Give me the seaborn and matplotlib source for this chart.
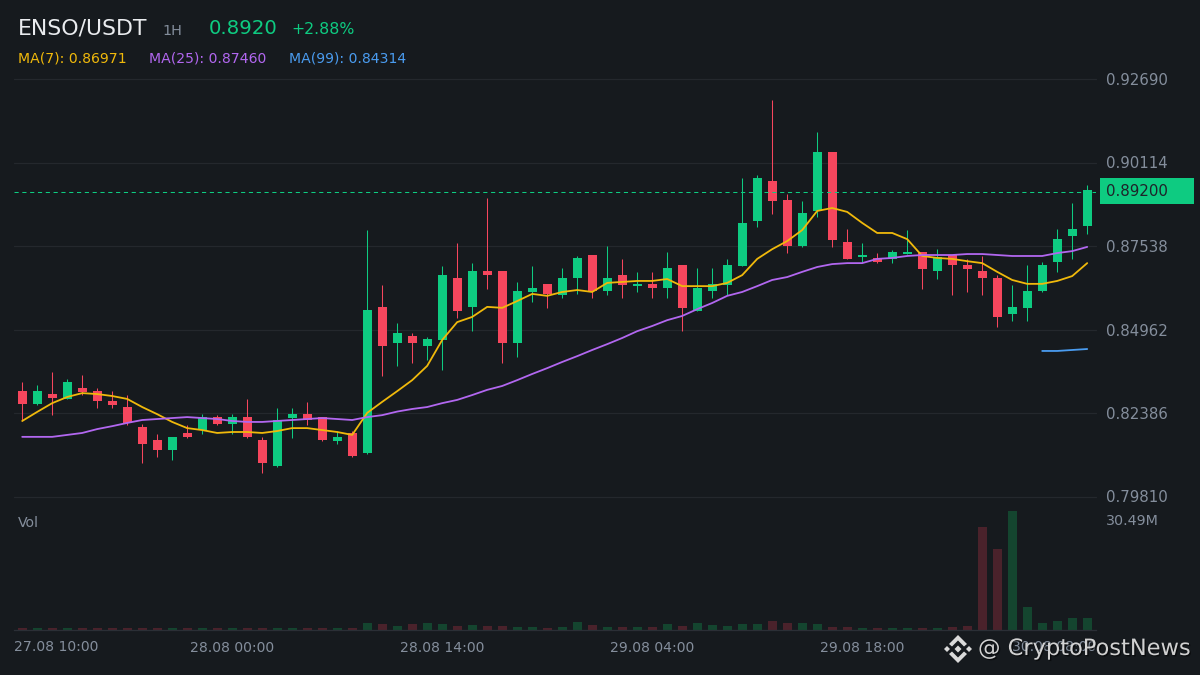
import numpy as np
import pandas as pd
import seaborn as sns
import matplotlib.pyplot as plt
import matplotlib.patheffects as pe
from matplotlib.patches import Polygon

# candles, one per hour from 27.08 10:00
opens = [.8306, .8266, .8297, .8282, .8316, .8306, .8276, .8257, .8195, .8155, .8124, .8177,
         .8186, .8226, .8205, .8226, .8155, .8075, .8223, .8235, .8226, .8152, .8177, .8115,
         .8566, .8454, .8476, .8445, .8464, .8655, .8566, .8677, .8677, .8454, .8612, .8637,
         .8603, .8655, .8726, .8615, .8664, .8630, .8637, .8624, .8695, .8553, .8615, .8633,
         .8692, .8831, .8954, .8896, .8754, .8862, .9044, .8766, .8720, .8717, .8714, .8729,
         .8735, .8677, .8726, .8695, .8677, .8655, .8544, .8563, .8615, .8704, .8785, .8815]
closes = [.8266, .8306, .8285, .8334, .8303, .8276, .8263, .8208, .8143, .8124, .8165, .8165,
          .8226, .8205, .8226, .8165, .8084, .8217, .8235, .8217, .8155, .8165, .8106, .8556,
          .8445, .8485, .8454, .8467, .8664, .8553, .8677, .8664, .8454, .8615, .8624, .8606,
          .8655, .8717, .8615, .8655, .8633, .8637, .8624, .8686, .8563, .8624, .8637, .8695,
          .8825, .8964, .8893, .8754, .8855, .9044, .8772, .8714, .8726, .8704, .8735, .8735,
          .8683, .8720, .8695, .8683, .8655, .8535, .8566, .8615, .8695, .8775, .8806, .8927]
highs = [.8334, .8325, .8365, .8343, .8356, .8316, .8306, .8294, .8205, .8174, .8165, .8202,
         .8235, .8232, .8235, .8282, .8165, .8254, .8254, .8273, .8226, .8183, .8183, .8803,
         .8633, .8516, .8485, .8473, .8692, .8763, .8701, .8902, .8677, .8643, .8692, .8637,
         .8686, .8723, .8726, .8754, .8714, .8674, .8674, .8735, .8695, .8686, .8686, .8714,
         .8964, .8973, .9204, .8914, .8893, .9105, .9044, .8806, .8763, .8732, .8741, .8803,
         .8735, .8744, .8726, .8714, .8723, .8664, .8633, .8695, .8704, .8806, .8886, .8942]
lows = [.8214, .8263, .8232, .8282, .8294, .8254, .8254, .8202, .8084, .8103, .8094, .8161,
        .8174, .8202, .8174, .8161, .8053, .8072, .8161, .8202, .8152, .8143, .8103, .8112,
        .8353, .8384, .8393, .8402, .8371, .8532, .8491, .8621, .8393, .8411, .8581, .8563,
        .8593, .8606, .8593, .8603, .8593, .8612, .8593, .8593, .8491, .8553, .8593, .8603,
        .8692, .8812, .8852, .8732, .8751, .8843, .8751, .8714, .8704, .8701, .8701, .8729,
        .8621, .8652, .8603, .8612, .8603, .8504, .8522, .8522, .8612, .8674, .8714, .8791]

ma7 = [.8214, .8242, .8269, .8288, .8300, .8297, .8291, .8282, .8257, .8235, .8211, .8192,
       .8186, .8177, .8180, .8180, .8177, .8183, .8192, .8192, .8186, .8180, .8171, .8239,
       .8273, .8306, .8340, .8384, .8464, .8519, .8535, .8566, .8563, .8584, .8606, .8600,
       .8612, .8618, .8612, .8640, .8643, .8646, .8646, .8652, .8630, .8630, .8630, .8640,
       .8664, .8714, .8744, .8769, .8803, .8862, .8871, .8859, .8825, .8794, .8794, .8775,
       .8723, .8717, .8714, .8707, .8701, .8674, .8649, .8637, .8637, .8646, .8661, .8701]
ma25 = [.8165, .8165, .8165, .8171, .8177, .8189, .8198, .8208, .8217, .8220, .8223, .8226,
        .8223, .8220, .8214, .8211, .8211, .8214, .8217, .8220, .8223, .8220, .8217, .8226,
        .8232, .8243, .8251, .8257, .8269, .8279, .8294, .8310, .8322, .8340, .8359, .8377,
        .8396, .8414, .8433, .8451, .8470, .8491, .8507, .8525, .8538, .8559, .8578, .8600,
        .8612, .8630, .8649, .8658, .8674, .8689, .8698, .8701, .8701, .8714, .8717, .8723,
        .8726, .8726, .8726, .8729, .8729, .8726, .8723, .8723, .8723, .8732, .8738, .8751]
ma99 = [np.nan] * 68 + [.8430, .8430, .8433, .8436]

# volume in millions
volumes = [.3] * 23 + [1.6, 1.3, .8, 1.3, 1.6, 1.3, .78, 1.03, .78, .78, .52, .52, .26, .52,
                       1.81, 1.03, .52, .52, .52, .52, 1.29, .78, 1.55, 1.03, .78, 1.29, 1.29,
                       2.07, 1.55, 1.55, 1.29, .52, .52, .3, .3, .3, .3, .3, .3, .52, .78,
                       26.4, 20.7, 30.49, 5.7, 1.55, 2.07, 2.84, 2.84]

price_ticks = [.92690, .90114, .87538, .84962, .82386, .79810]
time_ticks = [14, 28, 42, 56]
time_labels = ['28.08 00:00', '28.08 14:00', '29.08 04:00', '29.08 18:00']

BG = '#161a1e'
GRID = '#24282d'
GREY = '#848e9c'
GREEN = '#0ecb81'
RED = '#f6465d'

sns.set_theme(style='dark', rc={'figure.facecolor': BG, 'axes.facecolor': BG})
plt.rcParams['font.family'] = 'DejaVu Sans'

df = pd.DataFrame({'open': opens, 'close': closes, 'high': highs, 'low': lows,
                   'ma7': ma7, 'ma25': ma25, 'ma99': ma99, 'vol': volumes})
df['i'] = df.index
df['up'] = df['close'] >= df['open']
colors = df['up'].map({True: GREEN, False: RED})

fig = plt.figure(figsize=(12, 6.75), dpi=100)
left, right = 14 / 1200, 1096 / 1200
xlim = (-8.2 / 15, (1096 - 22.2) / 15)

# price panel
ax = fig.add_axes([left, 1 - 496.5 / 675, right - left, 417.5 / 675])
ax.vlines(df['i'], df['low'], df['high'], color=colors, lw=0.75, zorder=2)
ax.bar(df['i'], (df['close'] - df['open']).abs(), bottom=df[['open', 'close']].min(axis=1),
       width=0.6, color=colors, linewidth=0, zorder=3)
sns.lineplot(data=df, x='i', y='ma7', color='#f0b90b', lw=1.3, ax=ax, zorder=4)
sns.lineplot(data=df, x='i', y='ma25', color='#b267f0', lw=1.3, ax=ax, zorder=4)
sns.lineplot(data=df, x='i', y='ma99', color='#4a9cf0', lw=1.3, ax=ax, zorder=4)
ax.axhline(0.8920, color=GREEN, lw=0.75, ls=(0, (4, 3.5)), zorder=5)

ax.set_xlim(xlim)
ax.set_ylim(price_ticks[-1], price_ticks[0])
ax.set_xticks([])
ax.set_xlabel('')
ax.set_ylabel('')
ax.yaxis.tick_right()
ax.set_yticks(price_ticks, [f'{t:.5f}' for t in price_ticks])
ax.tick_params(axis='y', length=0, pad=7.2, labelsize=10.8, labelcolor=GREY)
ax.grid(axis='y', color=GRID, lw=0.9, clip_on=False)
ax.set_axisbelow(True)
sns.despine(ax=ax, left=True, right=True, top=True, bottom=True)

# volume panel
vax = fig.add_axes([left, 1 - 629.5 / 675, right - left, 118.5 / 675])
sns.barplot(data=df, x='i', y='vol', hue='up', palette={True: '#14452f', False: '#4a222b'},
            native_scale=True, dodge=False, width=0.6, legend=False, linewidth=0, saturation=1,
            ax=vax)
vax.set_xlim(xlim)
vax.set_ylim(0, 30.49)
vax.set_xlabel('')
vax.set_ylabel('')
vax.set_yticks([])
vax.set_xticks(time_ticks, time_labels)
vax.tick_params(axis='x', length=0, pad=8, labelsize=10.1, labelcolor=GREY)
sns.despine(ax=vax, left=True, right=True, top=True)
vax.spines['bottom'].set_color('#2b2f36')
vax.spines['bottom'].set_linewidth(0.9)

# overlay in figure pixels for header, tag and watermark
over = fig.add_axes([0, 0, 1, 1], facecolor='none')
over.set_xlim(0, 1200)
over.set_ylim(675, 0)
over.axis('off')

over.text(18, 34, 'ENSO/USDT', color='#eaecef', fontsize=15.8)
over.text(162, 35, '1H', color=GREY, fontsize=10.4)
over.text(209, 34, '0.8920', color=GREEN, fontsize=14.2)
over.text(291, 34, '+2.88%', color=GREEN, fontsize=11.3)
over.text(18, 62, 'MA(7): 0.86971', color='#f0b90b', fontsize=10.1)
over.text(149, 62, 'MA(25): 0.87460', color='#b267f0', fontsize=10.1)
over.text(289, 62, 'MA(99): 0.84314', color='#4a9cf0', fontsize=10.1)
over.text(18, 523, 'Vol', color=GREY, fontsize=10.1, va='center')
over.text(1106, 521, '30.49M', color=GREY, fontsize=10.3, va='center')

over.add_patch(plt.Rectangle((1100, 178), 94, 26, color=GREEN, lw=0))
over.text(1106, 191.5, '0.89200', color='#1e2329', fontsize=10.8, va='center')

over.text(14, 647, '27.08 10:00', color=GREY, fontsize=10.1, va='center')
over.text(1096, 647, '30.08 08:00', color=GREY, fontsize=10.1, va='center', ha='right')

logo = '#dadada'
cx, cy = 958, 649
for dx, dy, r in [(0, 0, 3.5), (-11, 0, 3), (11, 0, 3)]:
    over.add_patch(Polygon([(cx + dx - r, cy + dy), (cx + dx, cy + dy - r),
                            (cx + dx + r, cy + dy), (cx + dx, cy + dy + r)], color=logo, lw=0))
for s in (-1, 1):
    over.add_patch(Polygon([(cx - 9, cy + s * 5), (cx, cy + s * 14), (cx + 9, cy + s * 5),
                            (cx + 6, cy + s * 2.5), (cx, cy + s * 8.5), (cx - 6, cy + s * 2.5)],
                           color=logo, lw=0))
over.text(978, 649, '@ CryptoPostNews', color='#dcdcdc', fontsize=16.2, va='center', alpha=0.95,
          path_effects=[pe.withSimplePatchShadow(offset=(1, -1), shadow_rgbFace='#000000', alpha=0.5)])

fig.savefig('out.png', dpi=100, facecolor=BG)
